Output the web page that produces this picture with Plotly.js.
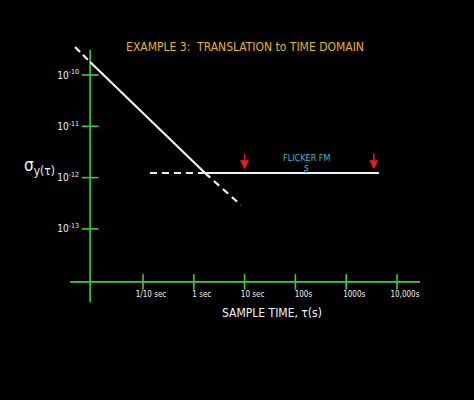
<!DOCTYPE html>
<html><head><meta charset="utf-8">
<script src="https://cdn.plot.ly/plotly-3.0.1.min.js"></script>
<style>html,body{margin:0;padding:0;background:#000;}</style>
</head><body><div id="chart" style="width:474px;height:400px;"></div>
<script>
// ---- data ----
const tickTau = [0.1, 1, 10, 100, 1000, 10000];
const tickTauText = ['1/10 sec', '1 sec', '10 sec', '100s', '1000s', '10,000s'];
const tickSigma = [1e-10, 1e-11, 1e-12, 1e-13];
const tickSigmaText = ['10<sup>-10</sup>', '10<sup>-11</sup>', '10<sup>-12</sup>', '10<sup>-13</sup>'];

// white-PM region, slope tau^-1
const slopeDashTau = [0.0046, 0.0091];
const slopeDashSigma = [3.5e-10, 1.79e-10];
const slopeSolidTau = [0.0091, 1.66];
const slopeSolidSigma = [1.79e-10, 1.23e-12];
const slopeExtTau = [1.66, 8.5];
const slopeExtSigma = [1.23e-12, 2.9e-13];
// flicker FM floor
const floorDashTau = [0.137, 1.66];
const floorDashSigma = [1.23e-12, 1.23e-12];
const floorSolidTau = [1.66, 4400];
const floorSolidSigma = [1.23e-12, 1.23e-12];
// red arrows marking the flicker region
const arrowTau = [10, 3500];
const arrowTipSigma = [1.45e-12, 1.45e-12];
const flickerLabelTau = 162;
const flickerLabelSigma = 2.45e-12;

// hand-drawn axes
const yAxisTau = 0.0091;            // where the vertical axis stands
const xAxisSigma = 9.3e-15;         // where the horizontal axis lies
const xAxisSpan = [0.00366, 28400];
const yAxisSpan = [3.1e-10, 3.7e-15];

const XR = [-3.815, 5.516];
const YR = [-16.335, -8.538];

const GREEN = '#3ccf3c', WHITE = '#f2f2f2', RED = '#e81e1e', CYAN = '#3cb6cf', GOLD = '#e4b618';
const FONT = '"Liberation Sans Narrow", "DejaVu Sans Condensed", sans-serif';

const traces = [
  {x: xAxisSpan, y: [xAxisSigma, xAxisSigma], mode: 'lines', line: {color: GREEN, width: 1.6}},
  {x: [yAxisTau, yAxisTau], y: yAxisSpan, mode: 'lines', line: {color: GREEN, width: 1.6}},
  {x: tickTau, y: tickTau.map(() => xAxisSigma), mode: 'markers',
   marker: {symbol: 'line-ns', size: 11, line: {color: GREEN, width: 1.6}}},
  {x: tickSigma.map(() => yAxisTau), y: tickSigma, mode: 'markers',
   marker: {symbol: 'line-ew', size: 12, line: {color: GREEN, width: 1.6}}},
  {x: slopeDashTau, y: slopeDashSigma, mode: 'lines', line: {color: WHITE, width: 2.2, dash: '7px,4px'}},
  {x: slopeSolidTau, y: slopeSolidSigma, mode: 'lines', line: {color: WHITE, width: 2.2}},
  {x: slopeExtTau, y: slopeExtSigma, mode: 'lines', line: {color: WHITE, width: 2.2, dash: '7px,5px'}},
  {x: floorDashTau, y: floorDashSigma, mode: 'lines', line: {color: WHITE, width: 1.8, dash: '7px,5px'}},
  {x: floorSolidTau, y: floorSolidSigma, mode: 'lines', line: {color: WHITE, width: 2.2}}
];

const annotations = arrowTau.map((t, i) => ({
  x: Math.log10(t), y: Math.log10(arrowTipSigma[i]), xref: 'x', yref: 'y',
  text: '', showarrow: true, ax: 0, ay: -17, arrowhead: 2, arrowsize: 1.2,
  arrowwidth: 1.5, arrowcolor: RED
}));
annotations.push({
  x: Math.log10(flickerLabelTau), y: Math.log10(flickerLabelSigma), xref: 'x', yref: 'y',
  xanchor: 'center', yanchor: 'middle',
  text: 'FLICKER FM', showarrow: false, font: {family: FONT, size: 9, color: CYAN}
});
annotations.push({
  x: Math.log10(flickerLabelTau), y: Math.log10(flickerLabelSigma), xref: 'x', yref: 'y', yshift: -10,
  xanchor: 'center', yanchor: 'middle',
  text: 'ʂ', showarrow: false, font: {family: FONT, size: 10, color: CYAN}
});
annotations.push({
  x: 57 / 474, y: 1 - 166 / 400, xref: 'paper', yref: 'paper', showarrow: false,
  xanchor: 'right', yanchor: 'middle',
  text: 'σ<sub>y(τ)</sub>', font: {family: FONT, size: 17, color: WHITE}
});
annotations.push({
  x: 272 / 474, y: 1 - 313 / 400, xref: 'paper', yref: 'paper', showarrow: false,
  xanchor: 'center', yanchor: 'middle',
  text: 'SAMPLE TIME, τ(s)', font: {family: FONT, size: 12, color: WHITE}
});

const layout = {
  width: 474, height: 400,
  margin: {l: 0, r: 0, t: 0, b: 0},
  paper_bgcolor: '#000', plot_bgcolor: '#000',
  showlegend: false,
  title: {text: 'EXAMPLE 3:&nbsp;&nbsp;TRANSLATION to TIME DOMAIN', x: 245 / 474, y: 1 - 47 / 400,
          xanchor: 'center', yanchor: 'middle', font: {family: FONT, size: 12, color: GOLD}},
  xaxis: {type: 'log', range: XR, domain: [0, 1], anchor: 'free',
          position: (Math.log10(xAxisSigma) - YR[0]) / (YR[1] - YR[0]),
          showgrid: false, zeroline: false, showline: false, ticks: '',
          tickvals: tickTau, ticktext: tickTauText, ticklabelshift: 8, ticklabelstandoff: 6,
          tickfont: {family: FONT, size: 8, color: WHITE}},
  yaxis: {type: 'log', range: YR, domain: [0, 1], anchor: 'free',
          position: (Math.log10(yAxisTau) - XR[0]) / (XR[1] - XR[0]),
          showgrid: false, zeroline: false, showline: false, ticks: '',
          tickvals: tickSigma, ticktext: tickSigmaText, ticklabelstandoff: 11,
          tickfont: {family: FONT, size: 10, color: WHITE}},
  annotations: annotations
};

Plotly.newPlot('chart', traces, layout, {displayModeBar: false, staticPlot: true});
</script>
</body></html>
